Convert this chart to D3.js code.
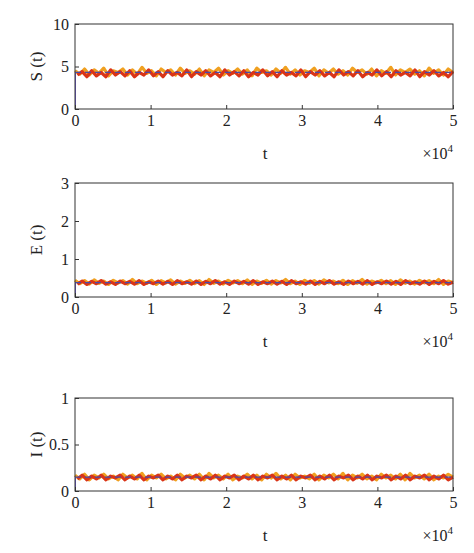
<!DOCTYPE html>
<html><head><meta charset="utf-8">
<script src="https://cdn.jsdelivr.net/npm/d3@7"></script>
<style>body{margin:0;background:#fff}svg text{font-family:"Liberation Serif","DejaVu Serif","Times New Roman",serif !important}</style>
</head><body><svg id="c" width="474" height="553"></svg>
<script>
const xTicks=[0,1,2,3,4,5];
const sTicks=[0,5,10], eTicks=[0,1,2,3], iTicks=[0,0.5,1];
// sample values (t in units of 10^4)
const sOrange=[4.5,4.1,4.7,4.0,4.6,4.2,4.8,3.9,4.5,4.3,4.7,4.0,4.6,4.1,4.9,4.2,4.5,3.9,4.7,4.3,4.6,4.0,4.8,4.2,4.5,4.1,4.7,3.9,4.6,4.3,4.8,4.0,4.5,4.2,4.7,4.1,4.6,3.9,4.8,4.3,4.5,4.0,4.7,4.2,4.9,4.1,4.6,4.0,4.5,4.3,4.8,3.9,4.6,4.2,4.7,4.1,4.5,4.0,4.8,4.3,4.6,4.1,4.7,3.9,4.5,4.2,4.9,4.0,4.6,4.3,4.7,4.1,4.5,3.9,4.8,4.2,4.6,4.0,4.7,4.3];
const sRed=[4.0,4.4,3.8,4.5,3.9,4.3,3.8,4.6,4.0,4.4,3.9,4.5,3.8,4.3,4.0,4.6,3.9,4.4,3.8,4.5,4.0,4.3,3.9,4.6,3.8,4.4,4.0,4.5,3.9,4.3,3.8,4.6,4.0,4.4,3.9,4.5,3.8,4.3,4.0,4.6,3.9,4.4,3.8,4.5,4.0,4.3,3.9,4.6,3.8,4.4,4.0,4.5,3.9,4.3,3.8,4.6,4.0,4.4,3.9,4.5,3.8,4.3,4.0,4.6,3.9,4.4,3.8,4.5,4.0,4.3,3.9,4.6,3.8,4.4,4.0,4.5,3.9,4.3,3.8,4.4];
const sMean=4.3;
const eOrange=[0.44,0.35,0.43,0.34,0.45,0.36,0.42,0.33,0.44,0.37,0.43,0.34,0.46,0.35,0.42,0.36,0.44,0.33,0.43,0.37,0.45,0.34,0.42,0.36,0.44,0.35,0.43,0.33,0.46,0.36,0.42,0.34,0.44,0.37,0.43,0.35,0.45,0.33,0.42,0.36,0.44,0.34,0.43,0.37,0.46,0.35,0.42,0.33,0.44,0.36,0.43,0.34,0.45,0.37,0.42,0.35,0.44,0.33,0.43,0.36,0.46,0.34,0.42,0.37,0.44,0.35,0.43,0.33,0.45,0.36,0.42,0.34,0.44,0.37,0.43,0.35,0.46,0.33,0.42,0.38];
const eRed=[0.34,0.42,0.33,0.41,0.35,0.43,0.34,0.40,0.33,0.42,0.35,0.41,0.34,0.43,0.33,0.40,0.35,0.42,0.34,0.41,0.33,0.43,0.35,0.40,0.34,0.42,0.33,0.41,0.35,0.43,0.34,0.40,0.33,0.42,0.35,0.41,0.34,0.43,0.33,0.40,0.35,0.42,0.34,0.41,0.33,0.43,0.35,0.40,0.34,0.42,0.33,0.41,0.35,0.43,0.34,0.40,0.33,0.42,0.35,0.41,0.34,0.43,0.33,0.40,0.35,0.42,0.34,0.41,0.33,0.43,0.35,0.40,0.34,0.42,0.33,0.41,0.35,0.43,0.34,0.39];
const eMean=0.38;
const iOrange=[0.17,0.13,0.18,0.12,0.17,0.14,0.18,0.13,0.16,0.12,0.18,0.14,0.17,0.13,0.19,0.12,0.17,0.14,0.18,0.13,0.16,0.12,0.18,0.14,0.17,0.13,0.18,0.12,0.19,0.14,0.17,0.13,0.18,0.12,0.16,0.14,0.18,0.13,0.17,0.12,0.18,0.14,0.19,0.13,0.17,0.12,0.18,0.14,0.16,0.13,0.18,0.12,0.17,0.14,0.18,0.13,0.19,0.12,0.17,0.14,0.18,0.13,0.16,0.12,0.18,0.14,0.17,0.13,0.18,0.12,0.19,0.14,0.17,0.13,0.18,0.12,0.16,0.14,0.18,0.15];
const iRed=[0.13,0.17,0.12,0.16,0.13,0.17,0.12,0.16,0.14,0.17,0.12,0.16,0.13,0.17,0.12,0.16,0.14,0.17,0.12,0.16,0.13,0.17,0.12,0.16,0.14,0.17,0.12,0.16,0.13,0.17,0.12,0.16,0.14,0.17,0.12,0.16,0.13,0.17,0.12,0.16,0.14,0.17,0.12,0.16,0.13,0.17,0.12,0.16,0.14,0.17,0.12,0.16,0.13,0.17,0.12,0.16,0.14,0.17,0.12,0.16,0.13,0.17,0.12,0.16,0.14,0.17,0.12,0.16,0.13,0.17,0.12,0.16,0.14,0.17,0.12,0.16,0.13,0.17,0.12,0.15];
const iMean=0.15;

const panels=[
 {lab:"S (t)",ticks:sTicks,max:10,top:24,bot:109,o:sOrange,r:sRed,m:sMean},
 {lab:"E (t)",ticks:eTicks,max:3,top:183,bot:297,o:eOrange,r:eRed,m:eMean},
 {lab:"I (t)",ticks:iTicks,max:1,top:398,bot:491,o:iOrange,r:iRed,m:iMean}
];
const svg=d3.select("#c");
const x=d3.scaleLinear().domain([0,5]).range([75,453]);
panels.forEach(p=>{
 const y=d3.scaleLinear().domain([0,p.max]).range([p.bot,p.top]);
 const g=svg.append("g");
 const draw=(arr,col,off)=>{
  const n=arr.length;
  const line=d3.line().x((d,i)=>x((i+off)*5/(n-1+off))).y(d=>y(d));
  g.append("path").attr("d",line(arr)).attr("fill","none").attr("stroke",col).attr("stroke-width",3.2).attr("stroke-linejoin","round");
 };
 draw(p.o,"#f0a020",0);
 draw(p.r,"#d93418",0.5);
 g.append("line").attr("x1",x(0)).attr("x2",x(5)).attr("y1",y(p.m)).attr("y2",y(p.m)).attr("stroke","#4a4aa8").attr("stroke-width",1.2).attr("stroke-dasharray","6,4");
 g.append("line").attr("x1",x(0)+0.5).attr("x2",x(0)+0.5).attr("y1",y(0)).attr("y2",y(p.m)).attr("stroke","#6a5ad0").attr("stroke-width",1);
 g.append("rect").attr("x",x(0)).attr("y",p.top).attr("width",x(5)-x(0)).attr("height",p.bot-p.top).attr("fill","none").attr("stroke","#333").attr("stroke-width",1);
 const ax=d3.axisBottom(x).tickValues(xTicks).tickSize(-4).tickPadding(6).tickFormat(d=>d);
 const ga=g.append("g").attr("transform",`translate(0,${p.bot})`).call(ax);
 const ay=d3.axisLeft(y).tickValues(p.ticks).tickSize(-4).tickPadding(6).tickFormat(d=>d);
 const gy=g.append("g").attr("transform",`translate(${x(0)},0)`).call(ay);
 [ga,gy].forEach(a=>{a.attr("font-family",null);a.select(".domain").remove();a.selectAll("line").attr("stroke","#333");a.selectAll("text").attr("font-size",16).attr("fill","#222");});
 g.append("text").attr("x",265).attr("y",p.bot+50).attr("text-anchor","middle").attr("font-size",17).attr("fill","#222").text("t");
 const t=g.append("text").attr("x",453).attr("y",p.bot+50).attr("text-anchor","end").attr("font-size",16).attr("fill","#222");
 t.append("tspan").text("×10");
 t.append("tspan").attr("dy",-7).attr("font-size",11).text("4");
 g.append("text").attr("transform",`translate(42,${(p.top+p.bot)/2}) rotate(-90)`).attr("text-anchor","middle").attr("font-size",17).attr("fill","#222").text(p.lab);
});
</script></body></html>
